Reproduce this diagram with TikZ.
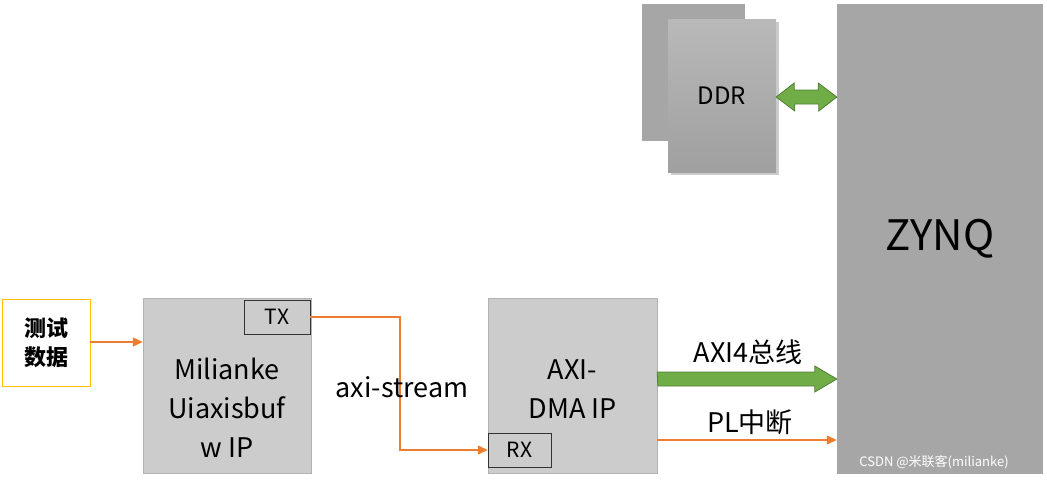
\documentclass[tikz,border=0pt]{standalone}
\usepackage{fontspec}
\setmainfont{Noto Sans CJK SC}
\usetikzlibrary{calc,arrows.meta,positioning,shadows}
\definecolor{ipgray}{HTML}{CCCCCC}
\definecolor{zgray}{HTML}{A6A6A6}
\definecolor{agreen}{HTML}{70AD47}
\definecolor{dgreen}{HTML}{507E32}
\definecolor{aorange}{HTML}{ED7D31}
\definecolor{ayellow}{HTML}{FFC000}
\tikzset{
  ipbox/.style={draw=gray!60, fill=ipgray, minimum width=168pt, minimum height=175pt, inner sep=0pt},
  iptext/.style={align=center, inner sep=0pt, font=\fontsize{27}{39}\selectfont},
  port/.style={draw=black!80, minimum height=34pt, inner sep=0pt, font=\fontsize{21}{24}\selectfont},
  sig/.style={draw=aorange, line width=1.2pt, -{Triangle[length=10pt,width=9pt]}},
  fat/.style={draw=dgreen, fill=agreen, line width=0.8pt},
  lbl/.style={font=\fontsize{27}{30}\selectfont, inner sep=0pt}
}
\begin{document}
\begin{tikzpicture}[x=1pt,y=-1pt]
  \useasboundingbox (0,0) rectangle (1047,480);
  % blocks
  \node (zynq) [fill=zgray, minimum width=206pt, minimum height=470pt, inner sep=0pt, font=\fontsize{42}{46}\selectfont] at (940,239) {ZYNQ};
  \node (ddrback) [fill=zgray, minimum width=103pt, minimum height=137pt] at (693.5,72.5) {};
  \node (ddr) [top color=gray!55, bottom color=gray!75, minimum width=108pt, minimum height=153pt, inner sep=0pt, font=\fontsize{24}{28}\selectfont, drop shadow={opacity=0.4}] at (722,95.5) {DDR};
  \node (data) [draw=ayellow, fill=white, minimum width=88pt, minimum height=87pt, align=center, font=\fontsize{22}{29}\selectfont\bfseries] at (46,342.5) {测试\\数据};
  \node (buf) [ipbox] at (227,385.5) {};
  \node (bufname) [iptext] at ($(buf)+(0,22)$) {Milianke\\Uiaxisbuf\\w IP};
  \node (tx) [port, minimum width=66pt] at (277,317) {TX};
  \node (dma) [ipbox, minimum width=169pt] at (572.5,385.5) {};
  \node (dmaname) [iptext] at ($(dma)+(0,4)$) {AXI-\\DMA IP};
  \node (rx) [port, minimum width=63pt] at (519.5,450) {RX};
  % connectors
  \draw [sig] (data.east |- 0,342) -- (buf.west |- 0,342);
  \draw [sig] (tx.east) -- (400,317) -- (400,450) -- (rx.west);
  \draw [sig] (dma.east |- 0,440) -- (zynq.west |- 0,440);
  \coordinate (axis) at (dma.east |- 0,379);
  \coordinate (axie) at (zynq.west |- 0,379);
  \draw [fat] (axis) ++(0,-7) -- ($(axie)+(-22,-7)$) -- ++(0,-6) -- (axie) -- ++(-22,13) -- ++(0,-6) -- ++(-157,0) -- cycle;
  \coordinate (ddrs) at (ddr.east |- 0,97);
  \coordinate (ddre) at (zynq.west |- 0,97);
  \draw [fat] (ddrs) -- ++(18,-14) -- ++(0,7) -- ++(24,0) -- ++(0,-7) -- (ddre) -- ++(-18,14) -- ++(0,-7) -- ++(-24,0) -- ++(0,7) -- cycle;
  % labels
  \node [lbl] at (402,387) {axi-stream};
  \node [lbl] at (748,352) {AXI4总线};
  \node [lbl] at (750,422) {PL中断};
  \node [font=\fontsize{13}{15}\selectfont, text=white, inner sep=0pt] at (934,462) {CSDN @米联客(milianke)};
\end{tikzpicture}
\end{document}
